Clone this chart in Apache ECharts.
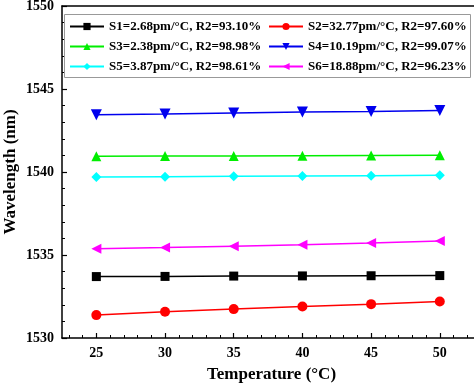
<!DOCTYPE html>
<html>
<head>
<meta charset="utf-8">
<script src="https://cdn.jsdelivr.net/npm/echarts@6/dist/echarts.min.js"></script>
<style>html,body{margin:0;padding:0;background:#fff}#c{width:474px;height:384px}</style>
</head>
<body>
<div id="c"></div>
<script>
const temperatures = [25, 30, 35, 40, 45, 50];
const seriesNames = [
  'S1=2.68pm/°C, R2=93.10%',
  'S2=32.77pm/°C, R2=97.60%',
  'S3=2.38pm/°C, R2=98.98%',
  'S4=10.19pm/°C, R2=99.07%',
  'S5=3.87pm/°C, R2=98.61%',
  'S6=18.88pm/°C, R2=96.23%'
];
const s1 = [1533.70, 1533.71, 1533.73, 1533.74, 1533.75, 1533.76];
const s2 = [1531.38, 1531.58, 1531.74, 1531.90, 1532.04, 1532.20];
const s3 = [1540.95, 1540.96, 1540.97, 1540.98, 1540.99, 1541.01];
const s4 = [1543.45, 1543.50, 1543.56, 1543.61, 1543.65, 1543.70];
const s5 = [1539.70, 1539.72, 1539.74, 1539.76, 1539.78, 1539.80];
const s6 = [1535.38, 1535.45, 1535.53, 1535.62, 1535.73, 1535.85];
const yTicks = [1530, 1535, 1540, 1545, 1550];
const xMinor = [23,24,26,27,28,29,31,32,33,34,36,37,38,39,41,42,43,44,46,47,48,49,51,52];

const values = [s1, s2, s3, s4, s5, s6];
const colors = ['#000000', '#ff0000', '#00ee00', '#0000ee', '#00ffff', '#ff00ff'];
const symbols = ['rect', 'circle', 'triangle', 'triangle', 'diamond', 'triangle'];
const rotates = [0, 0, 0, 180, 0, 90];
const sizes = [9, 10, 10, 11, 10, 10];

const font = 'Liberation Serif';
const series = values.map((v, i) => ({
  name: seriesNames[i],
  type: 'line',
  data: temperatures.map((t, k) => [t, v[k]]),
  symbol: symbols[i],
  symbolRotate: rotates[i],
  symbolSize: sizes[i],
  itemStyle: { color: colors[i] },
  lineStyle: { color: colors[i], width: 1.5 },
  animation: false
}));

const legendCommon = {
  orient: 'vertical',
  itemWidth: 34,
  itemHeight: 9,
  itemGap: 7,
  textStyle: { fontFamily: font, fontWeight: 'bold', fontSize: 13, color: '#000' },
  selectedMode: false
};

const chart = echarts.init(document.getElementById('c'));
chart.setOption({
  backgroundColor: '#fff',
  animation: false,
  grid: { left: 62, top: 6, right: -7, bottom: 46, outerBoundsMode: 'none', containLabel: false },
  graphic: [{
    type: 'rect', left: 64, top: 14, z: 50,
    shape: { width: 406, height: 63 },
    style: { fill: '#fff', stroke: '#999', lineWidth: 1 }
  }],
  legend: [
    Object.assign({ left: 64, top: 15, data: [seriesNames[0], seriesNames[2], seriesNames[4]], z: 60 }, legendCommon),
    Object.assign({ left: 263, top: 15, data: [seriesNames[1], seriesNames[3], seriesNames[5]], z: 60 }, legendCommon)
  ],
  xAxis: [{
    type: 'value', min: 22.5, max: 53,
    name: 'Temperature (°C)', nameLocation: 'middle', nameGap: 28, nameMoveOverlap: false,
    nameTextStyle: { fontFamily: font, fontWeight: 'bold', fontSize: 17, color: '#000' },
    axisLine: { lineStyle: { color: '#000', width: 1.5 } },
    axisTick: { inside: true, length: 5, customValues: temperatures, lineStyle: { color: '#000', width: 1.2 } },
    axisLabel: { customValues: temperatures, fontFamily: font, fontWeight: 'bold', fontSize: 14, color: '#000', margin: 8 },
    splitLine: { show: false }
  }, {
    type: 'value', min: 22.5, max: 53, position: 'bottom',
    axisLine: { show: false },
    axisTick: { inside: true, length: 3, customValues: xMinor, lineStyle: { color: '#000', width: 1 } },
    axisLabel: { show: false },
    splitLine: { show: false }
  }, {
    type: 'value', min: 22.5, max: 53, position: 'top',
    axisLine: { lineStyle: { color: '#000', width: 1.5 } },
    axisTick: { show: false }, axisLabel: { show: false }, splitLine: { show: false }
  }],
  yAxis: [{
    type: 'value', min: 1530, max: 1550, interval: 5,
    name: 'Wavelength (nm)', nameLocation: 'middle', nameGap: 43, nameMoveOverlap: false,
    nameTextStyle: { fontFamily: font, fontWeight: 'bold', fontSize: 17, color: '#000' },
    axisLine: { show: true, lineStyle: { color: '#000', width: 1.5 } },
    axisTick: { show: true, inside: true, length: 5, lineStyle: { color: '#000', width: 1.2 } },
    minorTick: { show: true, splitNumber: 5, length: 3, lineStyle: { color: '#000', width: 1 } },
    axisLabel: { customValues: yTicks, formatter: v => String(v), fontFamily: font, fontWeight: 'bold', fontSize: 14, color: '#000', margin: 8 },
    splitLine: { show: false }
  }],
  series: series
});
</script>
</body>
</html>
